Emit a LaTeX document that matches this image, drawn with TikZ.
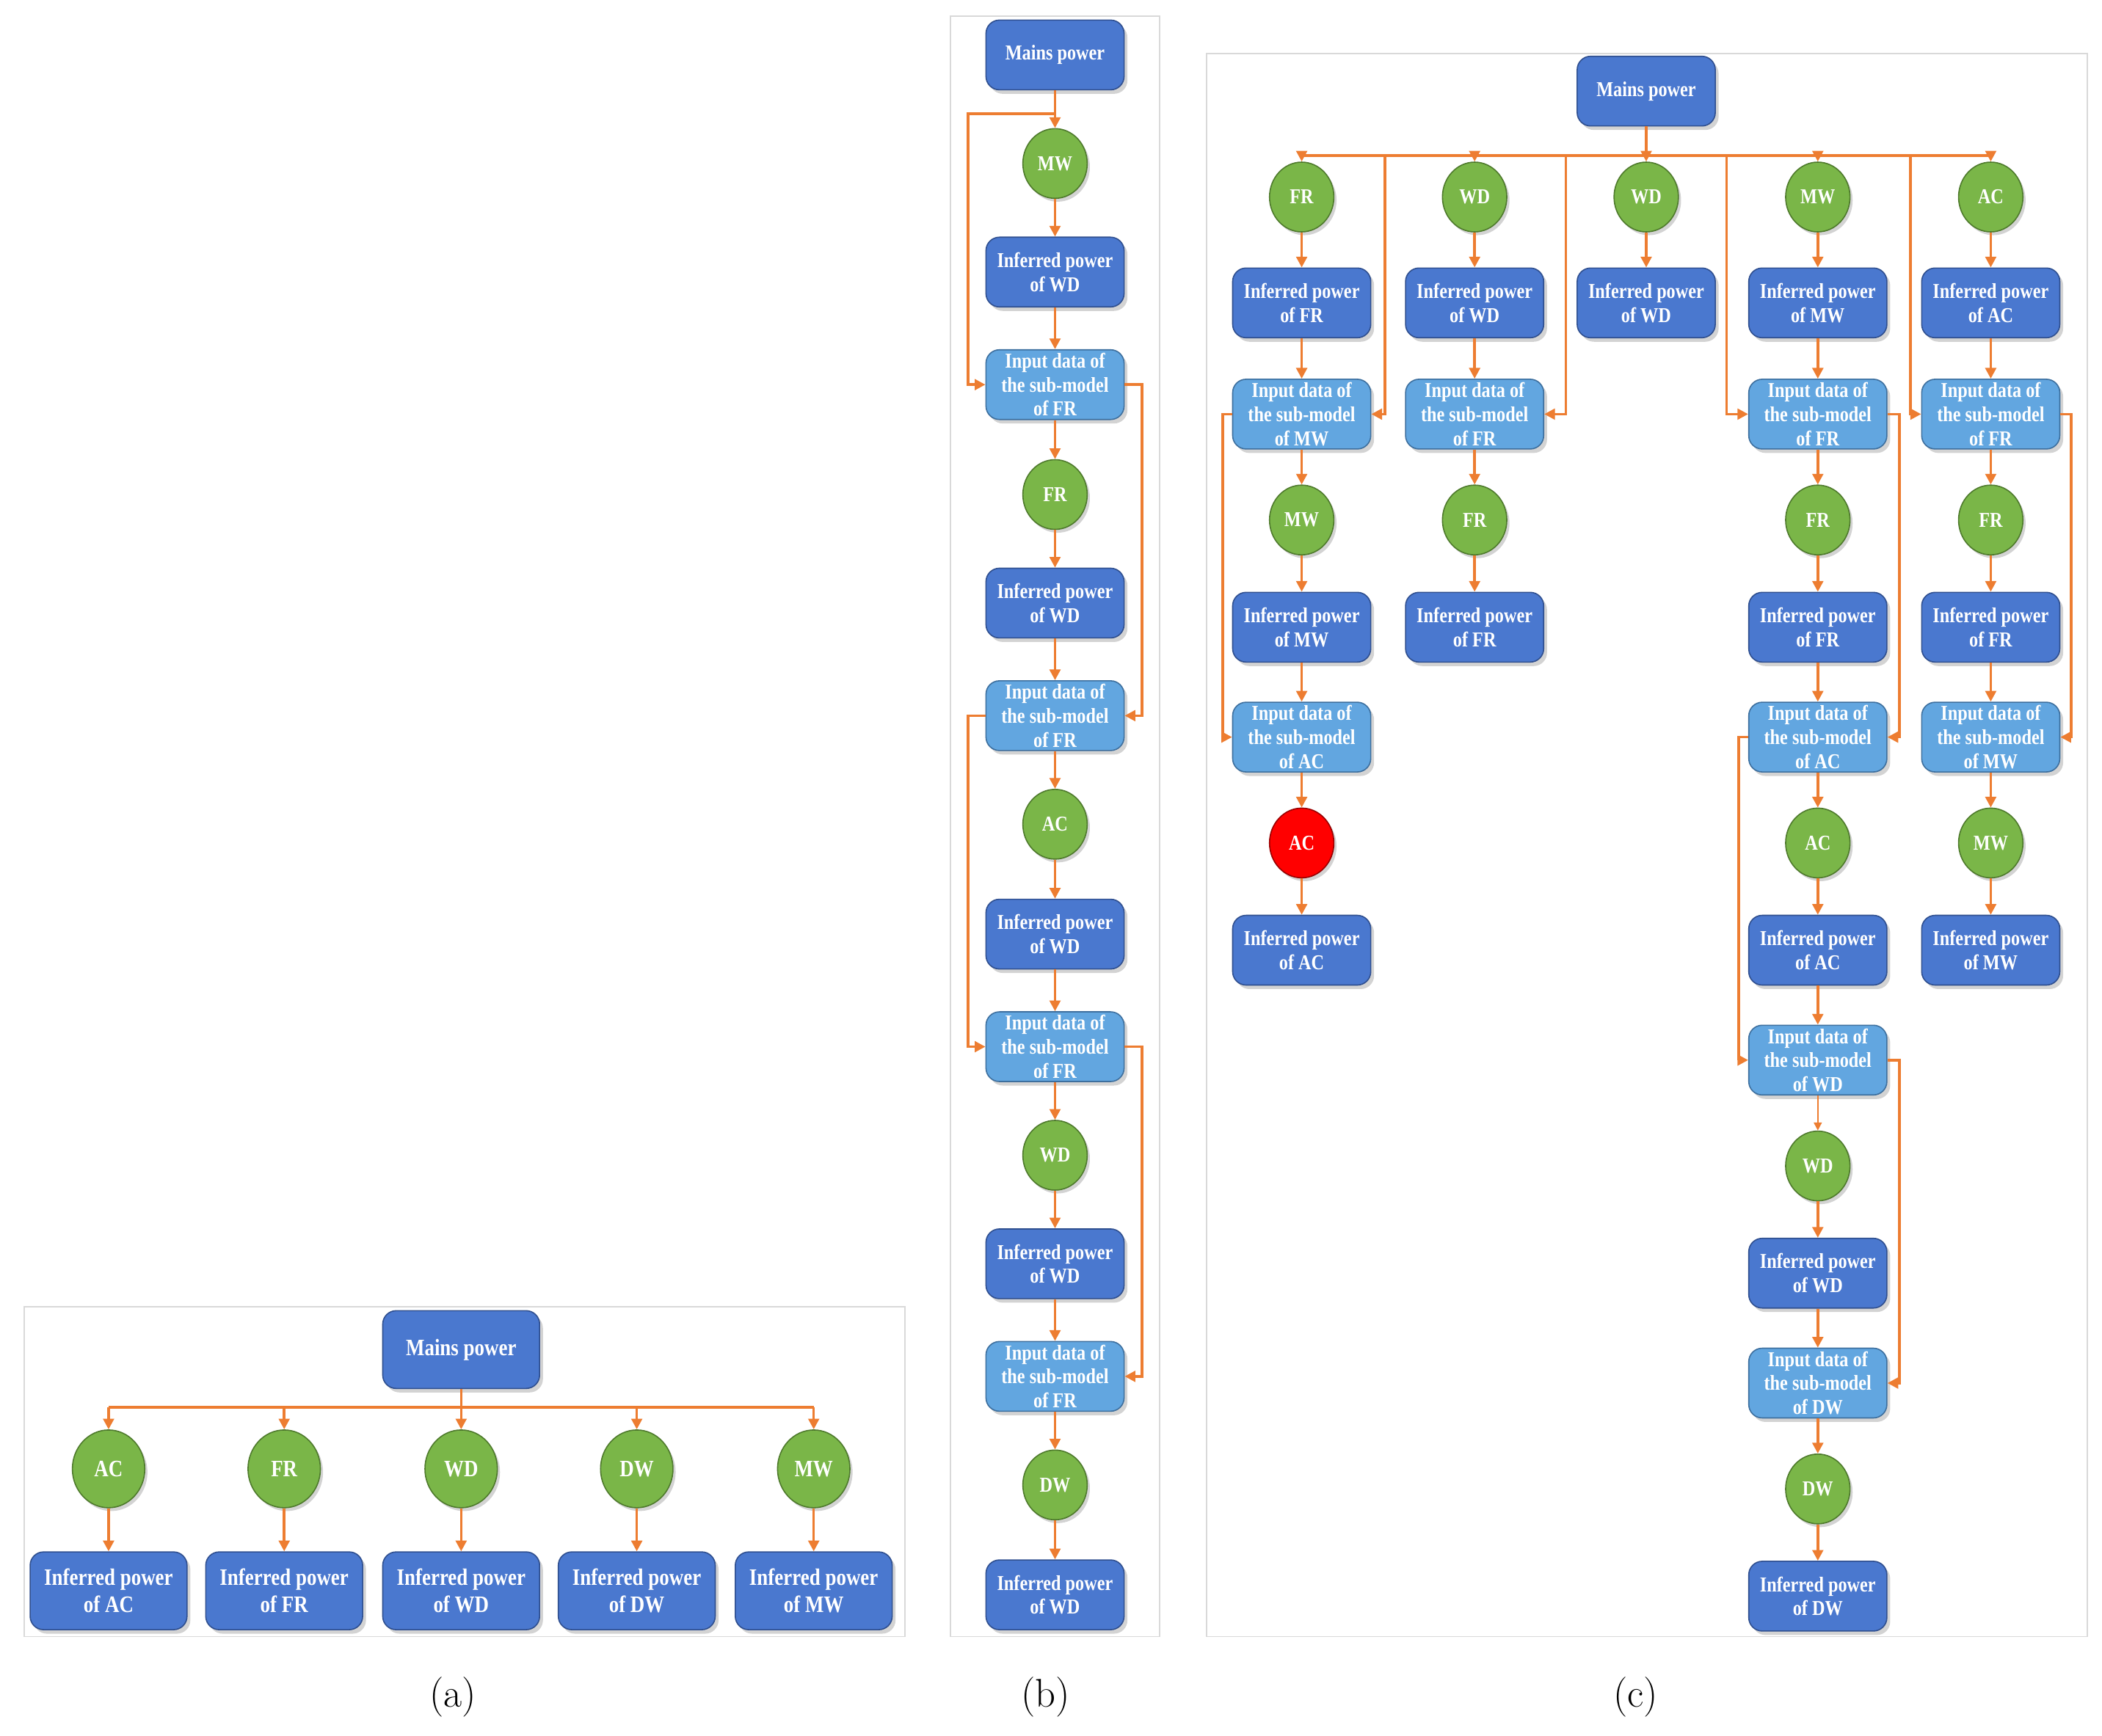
\documentclass[tikz,border=0pt]{standalone}
\usepackage{fontspec}
\setmainfont{Liberation Serif}[FakeStretch=0.84]
\newfontfamily\labfont{Latin Modern Roman}
\usetikzlibrary{shapes.geometric,shadows,arrows.meta}
\definecolor{dblue}{HTML}{4A78CF}
\definecolor{dbord}{HTML}{2F4F8F}
\definecolor{lblue}{HTML}{62A6E0}
\definecolor{lbord}{HTML}{3D6F9E}
\definecolor{grn}{HTML}{7AB648}
\definecolor{gbord}{HTML}{4E7A2C}
\definecolor{org}{HTML}{ED7D31}
\newcommand\N[5]{\node[#2] (#1) at (#3,#4) {#5};}
\begin{document}
\begin{tikzpicture}[x=0.2mm,y=-0.2mm,
  base/.style={rounded corners=2mm,draw,line width=0.5pt,text=white,font=\bfseries\fontsize{9}{10.2}\selectfont,align=center,inner sep=0pt,
    drop shadow={shadow xshift=0.5mm,shadow yshift=-0.6mm,opacity=0.35}},
  inf/.style={base,fill=dblue,draw=dbord,minimum width=20.6mm,minimum height=10.4mm},
  inp/.style={base,fill=lblue,draw=lbord,minimum width=20.6mm,minimum height=10.4mm},
  cir/.style={ellipse,draw=gbord,fill=grn,line width=0.5pt,text=white,font=\bfseries\fontsize{9}{10}\selectfont,minimum width=9.6mm,minimum height=10.4mm,inner sep=0pt,
    drop shadow={shadow xshift=0.4mm,shadow yshift=-0.5mm,opacity=0.35}},
  red/.style={cir,fill=red,draw=red!60!black},
  infa/.style={inf,minimum width=23.4mm,minimum height=11.6mm,font=\bfseries\fontsize{10}{11.5}\selectfont},
  cira/.style={cir,minimum width=10.8mm,minimum height=11.6mm,font=\bfseries\fontsize{10}{11}\selectfont},
  arr/.style={draw=org,line width=1.1pt,-{Triangle[length=1.6mm,width=1.6mm]}},
  ln/.style={draw=org,line width=1.1pt},
  frame/.style={draw=black!15,line width=0.4pt},
  lab/.style={font=\labfont\fontsize{17}{20}\selectfont}]
\path[use as bounding box] (0,0) rectangle (1568,1295);
% frames
\draw[frame] (18,975) rectangle (675,1221);
\draw[frame] (709,12) rectangle (865,1221);
\draw[frame] (900,40) rectangle (1557,1221);
\node[lab] (la) at (338,1266) {(a)};
\node[lab] (lb) at (780,1266) {(b)};
\node[lab] (lc) at (1220,1266) {(c)};

% ---------- panel (a)
\N{am}{infa}{344}{1007}{Mains power}
\coordinate (abus) at (344,1050);
\foreach \x/\t [count=\i] in {81/AC,212/FR,344/WD,475/DW,607/MW}{
  \N{ac\i}{cira}{\x}{1096}{\t}
  \N{ai\i}{infa}{\x}{1187}{Inferred power\\of \t}
  \coordinate (ab\i) at (\x,1050);
  \draw[arr] (ab\i) -- (ac\i);
  \draw[arr] (ac\i) -- (ai\i);
}
\draw[ln] (am) -- (abus);
\draw[ln] (ab1) -- (ab5);

% ---------- panel (b)
\N{bm}{inf}{787}{41}{Mains power}
\N{b1}{cir}{787}{122}{MW}
\N{b2}{inf}{787}{203}{Inferred power\\of WD}
\N{b3}{inp}{787}{287}{Input data of\\the sub-model\\of FR}
\N{b4}{cir}{787}{369}{FR}
\N{b5}{inf}{787}{450}{Inferred power\\of WD}
\N{b6}{inp}{787}{534}{Input data of\\the sub-model\\of FR}
\N{b7}{cir}{787}{615}{AC}
\N{b8}{inf}{787}{697}{Inferred power\\of WD}
\N{b9}{inp}{787}{781}{Input data of\\the sub-model\\of FR}
\N{b10}{cir}{787}{862}{WD}
\N{b11}{inf}{787}{943}{Inferred power\\of WD}
\N{b12}{inp}{787}{1027}{Input data of\\the sub-model\\of FR}
\N{b13}{cir}{787}{1108}{DW}
\N{b14}{inf}{787}{1190}{Inferred power\\of WD}
\foreach \a/\b in {bm/b1,b1/b2,b2/b3,b3/b4,b4/b5,b5/b6,b6/b7,b7/b8,b8/b9,b9/b10,b10/b11,b11/b12,b12/b13,b13/b14}
  \draw[arr] (\a) -- (\b);
\coordinate (bj) at (787,85);
\coordinate (bL) at (722,0);
\coordinate (bR) at (852,0);
\draw[arr] (bj) -- (bj -| bL) |- (b3.west);
\draw[arr] (b3.east) -- (b3.east -| bR) |- (b6.east);
\draw[arr] (b6.west) -- (b6.west -| bL) |- (b9.west);
\draw[arr] (b9.east) -- (b9.east -| bR) |- (b12.east);

% ---------- panel (c)
\N{cm}{inf}{1228}{68}{Mains power}
\coordinate (cbus) at (1228,116);
% column 1
\N{c11}{cir}{971}{147}{FR}
\N{c12}{inf}{971}{226}{Inferred power\\of FR}
\N{c13}{inp}{971}{309}{Input data of\\the sub-model\\of MW}
\N{c14}{cir}{971}{388}{MW}
\N{c15}{inf}{971}{468}{Inferred power\\of MW}
\N{c16}{inp}{971}{550}{Input data of\\the sub-model\\of AC}
\N{c17}{red}{971}{629}{AC}
\N{c18}{inf}{971}{709}{Inferred power\\of AC}
% column 2
\N{c21}{cir}{1100}{147}{WD}
\N{c22}{inf}{1100}{226}{Inferred power\\of WD}
\N{c23}{inp}{1100}{309}{Input data of\\the sub-model\\of FR}
\N{c24}{cir}{1100}{388}{FR}
\N{c25}{inf}{1100}{468}{Inferred power\\of FR}
% column 3
\N{c31}{cir}{1228}{147}{WD}
\N{c32}{inf}{1228}{226}{Inferred power\\of WD}
% column 4
\N{c41}{cir}{1356}{147}{MW}
\N{c42}{inf}{1356}{226}{Inferred power\\of MW}
\N{c43}{inp}{1356}{309}{Input data of\\the sub-model\\of FR}
\N{c44}{cir}{1356}{388}{FR}
\N{c45}{inf}{1356}{468}{Inferred power\\of FR}
\N{c46}{inp}{1356}{550}{Input data of\\the sub-model\\of AC}
\N{c47}{cir}{1356}{629}{AC}
\N{c48}{inf}{1356}{709}{Inferred power\\of AC}
\N{c49}{inp}{1356}{791}{Input data of\\the sub-model\\of WD}
\N{c410}{cir}{1356}{870}{WD}
\N{c411}{inf}{1356}{950}{Inferred power\\of WD}
\N{c412}{inp}{1356}{1032}{Input data of\\the sub-model\\of DW}
\N{c413}{cir}{1356}{1111}{DW}
\N{c414}{inf}{1356}{1191}{Inferred power\\of DW}
% column 5
\N{c51}{cir}{1485}{147}{AC}
\N{c52}{inf}{1485}{226}{Inferred power\\of AC}
\N{c53}{inp}{1485}{309}{Input data of\\the sub-model\\of FR}
\N{c54}{cir}{1485}{388}{FR}
\N{c55}{inf}{1485}{468}{Inferred power\\of FR}
\N{c56}{inp}{1485}{550}{Input data of\\the sub-model\\of MW}
\N{c57}{cir}{1485}{629}{MW}
\N{c58}{inf}{1485}{709}{Inferred power\\of MW}
\foreach \a/\b in {c11/c12,c12/c13,c13/c14,c14/c15,c15/c16,c16/c17,c17/c18,
  c21/c22,c22/c23,c23/c24,c24/c25,c31/c32,
  c41/c42,c42/c43,c43/c44,c44/c45,c45/c46,c46/c47,c47/c48,c48/c49,c410/c411,c411/c412,c412/c413,c413/c414,
  c51/c52,c52/c53,c53/c54,c54/c55,c55/c56,c56/c57,c57/c58}
  \draw[arr] (\a) -- (\b);
\draw[draw=org,line width=0.5pt,-{Triangle[length=1.2mm,width=1.2mm]}] (c49) -- (c410);
% bus
\draw[ln] (cm) -- (cbus);
\foreach \x/\n in {971/c11,1100/c21,1228/c31,1356/c41,1485/c51}{
  \coordinate (cb\n) at (\x,116);
  \draw[arr] (cb\n) -- (\n);
}
\draw[ln] (cbc11) -- (cbc51);
\foreach \x/\n/\s in {1033/c13/east,1168/c23/east,1288/c43/west,1425/c53/west}{
  \coordinate (cd\n) at (\x,116);
  \draw[arr] (cd\n) |- (\n.\s);
}
\coordinate (cL1) at (912,0);
\coordinate (cR4) at (1417,0);
\coordinate (cL4) at (1297,0);
\coordinate (cR5) at (1545,0);
\draw[arr] (c13.west) -- (c13.west -| cL1) |- (c16.west);
\draw[arr] (c43.east) -- (c43.east -| cR4) |- (c46.east);
\draw[arr] (c46.west) -- (c46.west -| cL4) |- (c49.west);
\draw[arr] (c49.east) -- (c49.east -| cR4) |- (c412.east);
\draw[arr] (c53.east) -- (c53.east -| cR5) |- (c56.east);
\end{tikzpicture}
\end{document}
